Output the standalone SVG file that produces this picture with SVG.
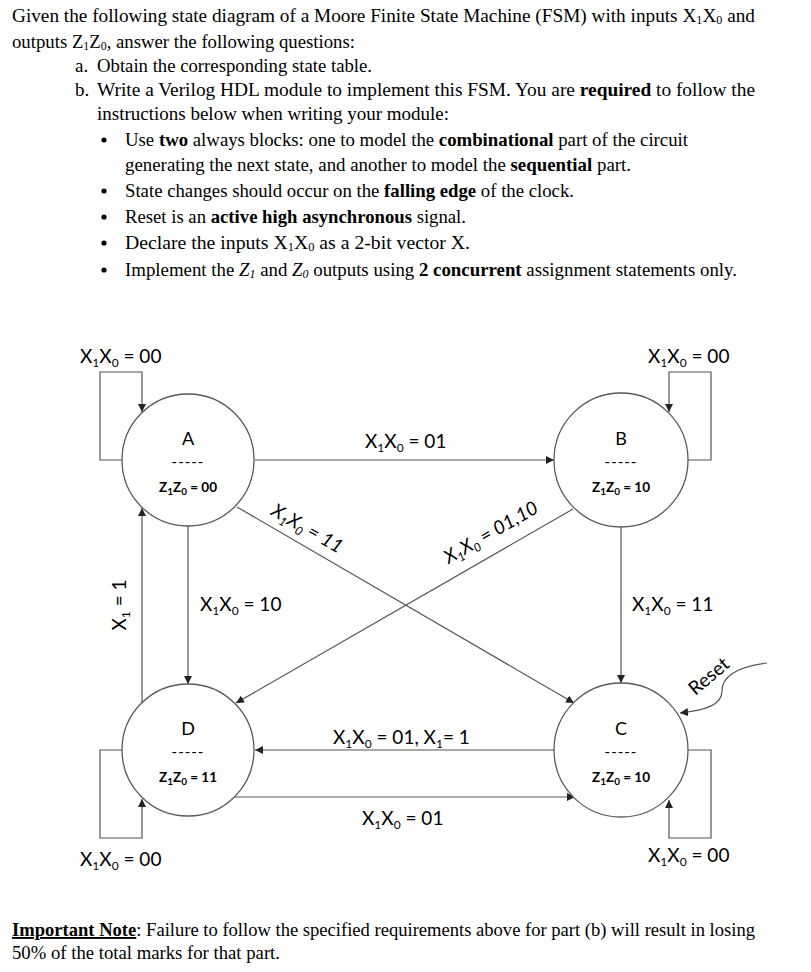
<svg xmlns="http://www.w3.org/2000/svg" width="811" height="972" viewBox="0 0 811 972">
<defs>
<style>
.t{font-family:"Liberation Serif","Times New Roman",serif;font-size:19px;fill:#000}
.b{font-weight:bold}
.ss{font-size:12px}
.lab{font-family:Lato,"Liberation Sans",sans-serif;font-size:19px;fill:#000}
.sub{font-size:12px}
.nd{font-family:Lato,"Liberation Sans",sans-serif;fill:#000;text-anchor:middle}
.nm{font-size:18px}
.out{font-size:13.5px;font-weight:bold}
.dash{font-size:15px;letter-spacing:1px}
circle{fill:#fff;stroke:#5a5a5a;stroke-width:1.3}
.e{fill:none;stroke:#555;stroke-width:1.2}
</style>
<marker id="ar" viewBox="0 0 10 10" refX="10" refY="5" markerWidth="8" markerHeight="8" markerUnits="userSpaceOnUse" orient="auto">
<path d="M0,0 L10,5 L0,10 z" fill="#222"/>
</marker>
</defs>
<rect width="811" height="972" fill="#fff"/>

<g id="question">
<text class="t" x="12" y="22" textLength="743" lengthAdjust="spacingAndGlyphs">Given the following state diagram of a Moore Finite State Machine (FSM) with inputs X<tspan class="ss" dy="2">1</tspan><tspan dy="-2">X</tspan><tspan class="ss" dy="2">0</tspan><tspan dy="-2"> and</tspan></text>
<text class="t" x="12" y="48" textLength="343" lengthAdjust="spacingAndGlyphs">outputs Z<tspan class="ss" dy="2">1</tspan><tspan dy="-2">Z</tspan><tspan class="ss" dy="2">0</tspan><tspan dy="-2">, answer the following questions:</tspan></text>
<text class="t" x="75" y="72">a.</text>
<text class="t" x="97" y="72" textLength="275" lengthAdjust="spacingAndGlyphs">Obtain the corresponding state table.</text>
<text class="t" x="75" y="96">b.</text>
<text class="t" x="97" y="96" textLength="658" lengthAdjust="spacingAndGlyphs">Write a Verilog HDL module to implement this FSM. You are <tspan class="b">required</tspan> to follow the</text>
<text class="t" x="97" y="120" textLength="352" lengthAdjust="spacingAndGlyphs">instructions below when writing your module:</text>
<g id="bullets">
<circle cx="104" cy="140" r="2.6" style="fill:#000;stroke:none"/>
<circle cx="104" cy="191" r="2.6" style="fill:#000;stroke:none"/>
<circle cx="104" cy="217" r="2.6" style="fill:#000;stroke:none"/>
<circle cx="104" cy="243" r="2.6" style="fill:#000;stroke:none"/>
<circle cx="104" cy="270" r="2.6" style="fill:#000;stroke:none"/>
</g>
<text class="t" x="125" y="146" textLength="563" lengthAdjust="spacingAndGlyphs">Use <tspan class="b">two</tspan> always blocks: one to model the <tspan class="b">combinational</tspan> part of the circuit</text>
<text class="t" x="125" y="171" textLength="506" lengthAdjust="spacingAndGlyphs">generating the next state, and another to model the <tspan class="b">sequential</tspan> part.</text>
<text class="t" x="125" y="197" textLength="449" lengthAdjust="spacingAndGlyphs">State changes should occur on the <tspan class="b">falling edge</tspan> of the clock.</text>
<text class="t" x="125" y="223" textLength="341" lengthAdjust="spacingAndGlyphs">Reset is an <tspan class="b">active high asynchronous</tspan> signal.</text>
<text class="t" x="125" y="249" textLength="345" lengthAdjust="spacingAndGlyphs">Declare the inputs X<tspan class="ss" dy="2">1</tspan><tspan dy="-2">X</tspan><tspan class="ss" dy="2">0</tspan><tspan dy="-2"> as a 2-bit vector X.</tspan></text>
<text class="t" x="125" y="276" textLength="612" lengthAdjust="spacingAndGlyphs">Implement the <tspan font-style="italic">Z</tspan><tspan class="ss" font-style="italic" dy="2">1</tspan><tspan dy="-2"> and </tspan><tspan font-style="italic">Z</tspan><tspan class="ss" font-style="italic" dy="2">0</tspan><tspan dy="-2"> outputs using </tspan><tspan class="b">2 concurrent</tspan> assignment statements only.</text>
</g>

<g id="connectors">
<path class="e" d="M122,460 H100 V372 H142 V412" marker-end="url(#ar)"/>
<path class="e" d="M688,460 H711 V372 H669 V412" marker-end="url(#ar)"/>
<path class="e" d="M122,750 H100 V838 H142 V799" marker-end="url(#ar)"/>
<path class="e" d="M688,750 H711 V838 H669 V800" marker-end="url(#ar)"/>
<path class="e" d="M255,460 H554" marker-end="url(#ar)"/>
<path class="e" d="M188,526 V684" marker-end="url(#ar)"/>
<path class="e" d="M142,703 V508" marker-end="url(#ar)"/>
<path class="e" d="M621,527 V683" marker-end="url(#ar)"/>
<path class="e" d="M237,507 L574,703" marker-end="url(#ar)"/>
<path class="e" d="M573,509 L236,703" marker-end="url(#ar)"/>
<path class="e" d="M554,750 H255" marker-end="url(#ar)"/>
<path class="e" d="M234,797 H575" marker-end="url(#ar)"/>
<path class="e" d="M767,663 C737,667 722,677 722,691 C722,705 706,710 680,713" marker-end="url(#ar)"/>
</g>

<g id="edge-labels">
<text class="lab" x="80" y="363">X<tspan class="sub" dy="4">1</tspan><tspan dy="-4">X</tspan><tspan class="sub" dy="4">0</tspan><tspan dy="-4"> = 00</tspan></text>
<text class="lab" x="648" y="363">X<tspan class="sub" dy="4">1</tspan><tspan dy="-4">X</tspan><tspan class="sub" dy="4">0</tspan><tspan dy="-4"> = 00</tspan></text>
<text class="lab" x="80" y="866">X<tspan class="sub" dy="4">1</tspan><tspan dy="-4">X</tspan><tspan class="sub" dy="4">0</tspan><tspan dy="-4"> = 00</tspan></text>
<text class="lab" x="648" y="862">X<tspan class="sub" dy="4">1</tspan><tspan dy="-4">X</tspan><tspan class="sub" dy="4">0</tspan><tspan dy="-4"> = 00</tspan></text>
<text class="lab" x="365" y="448">X<tspan class="sub" dy="4">1</tspan><tspan dy="-4">X</tspan><tspan class="sub" dy="4">0</tspan><tspan dy="-4"> = 01</tspan></text>
<text class="lab" x="200" y="611">X<tspan class="sub" dy="4">1</tspan><tspan dy="-4">X</tspan><tspan class="sub" dy="4">0</tspan><tspan dy="-4"> = 10</tspan></text>
<text class="lab" x="632" y="611">X<tspan class="sub" dy="4">1</tspan><tspan dy="-4">X</tspan><tspan class="sub" dy="4">0</tspan><tspan dy="-4"> = 11</tspan></text>
<text class="lab" x="333" y="744">X<tspan class="sub" dy="4">1</tspan><tspan dy="-4">X</tspan><tspan class="sub" dy="4">0</tspan><tspan dy="-4"> = 01, X</tspan><tspan class="sub" dy="4">1</tspan><tspan dy="-4">= 1</tspan></text>
<text class="lab" x="362" y="825">X<tspan class="sub" dy="4">1</tspan><tspan dy="-4">X</tspan><tspan class="sub" dy="4">0</tspan><tspan dy="-4"> = 01</tspan></text>
<text class="lab" transform="translate(126,605) rotate(-90)" text-anchor="middle">X<tspan class="sub" dy="4">1</tspan><tspan dy="-4"> = 1</tspan></text>
<text class="lab" transform="translate(304,534) rotate(30)" text-anchor="middle" font-style="italic">X<tspan class="sub" dy="4">1</tspan><tspan dy="-4">X</tspan><tspan class="sub" dy="4">0</tspan><tspan dy="-4"> = 11</tspan></text>
<text class="lab" transform="translate(494,538) rotate(-30)" text-anchor="middle" font-style="italic">X<tspan class="sub" dy="4">1</tspan><tspan dy="-4">X</tspan><tspan class="sub" dy="4">0</tspan><tspan dy="-4"> = 01,10</tspan></text>
<text class="lab" transform="translate(713,681) rotate(-40)" text-anchor="middle" font-size="16">Reset</text>
</g>

<g id="A">
<circle cx="188" cy="460" r="66"/>
<text class="nd nm" x="188" y="445">A</text>
<text class="nd dash" x="188" y="467">-----</text>
<text class="nd out" x="188" y="492">Z<tspan font-size="10" dy="3">1</tspan><tspan dy="-3">Z</tspan><tspan font-size="10" dy="3">0</tspan><tspan dy="-3"> = 00</tspan></text>
</g>
<g id="B">
<circle cx="621" cy="460" r="67"/>
<text class="nd nm" x="621" y="445">B</text>
<text class="nd dash" x="621" y="467">-----</text>
<text class="nd out" x="621" y="492">Z<tspan font-size="10" dy="3">1</tspan><tspan dy="-3">Z</tspan><tspan font-size="10" dy="3">0</tspan><tspan dy="-3"> = 10</tspan></text>
</g>
<g id="D">
<circle cx="188" cy="750" r="66"/>
<text class="nd nm" x="188" y="735">D</text>
<text class="nd dash" x="188" y="757">-----</text>
<text class="nd out" x="188" y="782">Z<tspan font-size="10" dy="3">1</tspan><tspan dy="-3">Z</tspan><tspan font-size="10" dy="3">0</tspan><tspan dy="-3"> = 11</tspan></text>
</g>
<g id="C">
<circle cx="621" cy="750" r="67"/>
<text class="nd nm" x="621" y="735">C</text>
<text class="nd dash" x="621" y="757">-----</text>
<text class="nd out" x="621" y="782">Z<tspan font-size="10" dy="3">1</tspan><tspan dy="-3">Z</tspan><tspan font-size="10" dy="3">0</tspan><tspan dy="-3"> = 10</tspan></text>
</g>

<g id="note">
<text class="t" x="12" y="936" textLength="743" lengthAdjust="spacingAndGlyphs"><tspan class="b" text-decoration="underline">Important Note</tspan>: Failure to follow the specified requirements above for part (b) will result in losing</text>
<text class="t" x="12" y="959" textLength="268" lengthAdjust="spacingAndGlyphs">50% of the total marks for that part.</text>
</g>
</svg>
